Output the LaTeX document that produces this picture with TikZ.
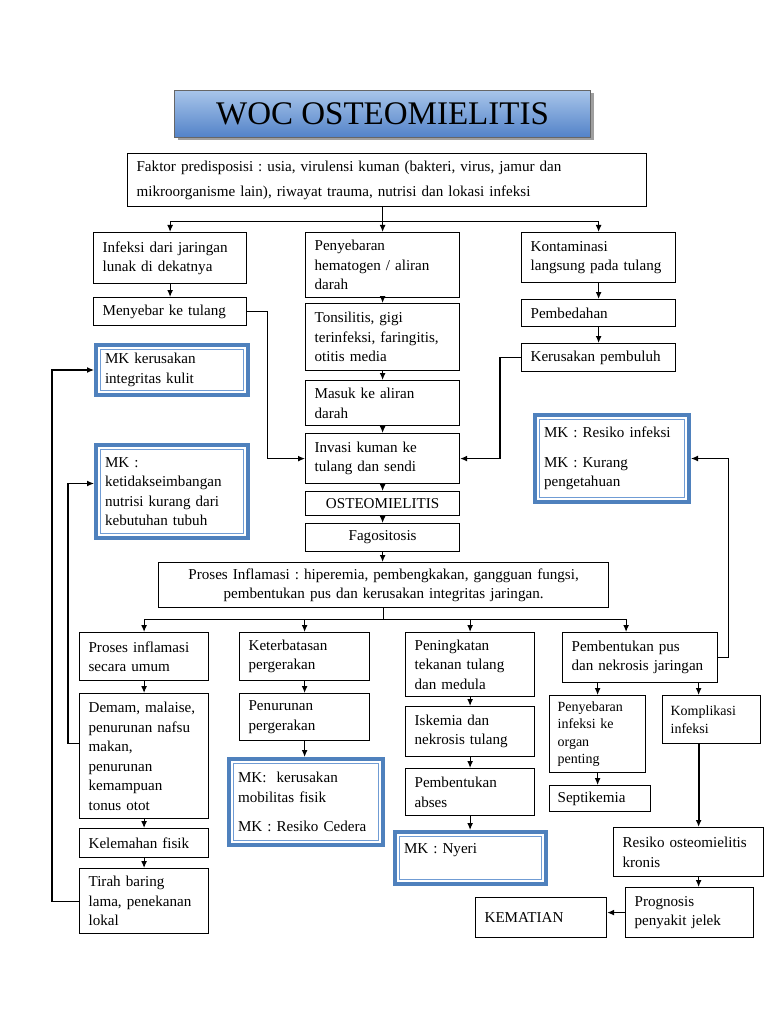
\documentclass[tikz,border=0pt]{standalone}
\usepackage{fontspec}
\setmainfont{Liberation Serif}
\usetikzlibrary{arrows.meta,shapes,positioning,shadows}
\frenchspacing
\hyphenpenalty=10000

\definecolor{mkblue}{RGB}{79,129,189}
\definecolor{mkinner}{RGB}{112,156,212}
\definecolor{titletop}{RGB}{168,197,234}
\definecolor{titlebot}{RGB}{82,130,200}

\tikzset{
  box/.style 2 args={draw, line width=1.2pt, anchor=north west,
    minimum width=#1pt, minimum height=#2pt, text width=#1pt-18pt,
    inner xsep=9pt, inner ysep=0pt, align=left,
    font=\fontsize{15.1}{19.5}\selectfont},
  mk/.style 2 args={box={#1}{#2}, draw=mkblue, line width=4pt,
    path picture={\draw[mkinner, line width=1.2pt]
      ([shift={(4.5pt,-4.5pt)}]path picture bounding box.north west) rectangle
      ([shift={(-4.5pt,4.5pt)}]path picture bounding box.south east);}},
  titlebox/.style={draw=black!60, line width=1pt, anchor=north west,
    minimum width=416pt, minimum height=47pt, top color=titletop,
    bottom color=titlebot, drop shadow={shadow xshift=3pt, shadow yshift=-3pt, fill=black!75},
    font=\fontsize{33}{36}\selectfont},
  arr/.style={-{Latex[length=7pt,width=6pt]}, line width=1.2pt},
  line/.style={line width=1.2pt}
}

\begin{document}
\begin{tikzpicture}[x=1pt,y=-1pt]
\useasboundingbox (0,0) rectangle (768,1024);
% title and predisposition
\node[titlebox] (title) at (174,90) {WOC OSTEOMIELITIS};
\node[box={519}{53}, font=\fontsize{15.1}{25}\selectfont] (faktor) at (127,153)
  {Faktor predisposisi : usia, virulensi kuman (bakteri, virus, jamur dan\\mikroorganisme lain), riwayat trauma, nutrisi dan lokasi infeksi};

% three routes of infection
\node[box={153}{51}] (infeksi) at (93,232) {Infeksi dari jaringan\\lunak di dekatnya};
\node[box={153}{28}] (menyebar) at (93,297) {Menyebar ke tulang};
\node[box={154}{65}] (penyebaran) at (305,232) {Penyebaran\\hematogen / aliran\\darah};
\node[box={154}{67}] (tonsil) at (305,303) {Tonsilitis, gigi\\terinfeksi, faringitis,\\otitis media};
\node[box={154}{45}] (masuk) at (305,380) {Masuk ke aliran\\darah};
\node[box={154}{50}] (invasi) at (305,433) {Invasi kuman ke\\tulang dan sendi};
\node[box={154}{24}, align=center] (osteo) at (305,491) {OSTEOMIELITIS};
\node[box={154}{28}, align=center] (fagosit) at (305,523) {Fagositosis};
\node[box={154}{50}] (kontaminasi) at (521,232) {Kontaminasi\\langsung pada tulang};
\node[box={154}{27}] (pembedahan) at (521,299) {Pembedahan};
\node[box={154}{28}] (kerusakan) at (521,343) {Kerusakan pembuluh};

% nursing problems (upper)
\node[mk={152}{50}] (mkkulit) at (94,343) {MK kerusakan\\integritas kulit};
\node[mk={152}{93}] (mknutrisi) at (94,443) {MK :\\ketidakseimbangan\\nutrisi kurang dari\\kebutuhan tubuh};
\node[mk={154}{87}] (mkinfeksi) at (533,413) {MK : Resiko infeksi\\[10pt]MK : Kurang\\pengetahuan};

% inflammation
\node[box={450}{45}, align=center] (inflamasi) at (158,562)
  {Proses Inflamasi : hiperemia, pembengkakan, gangguan fungsi,\\pembentukan pus dan kerusakan integritas jaringan.};

\node[box={129}{48}] (umum) at (79,632) {Proses inflamasi\\secara umum};
\node[box={129}{125}] (demam) at (79,693) {Demam, malaise,\\penurunan nafsu\\makan,\\penurunan\\kemampuan\\tonus otot};
\node[box={129}{29}] (kelemahan) at (79,828) {Kelemahan fisik};
\node[box={129}{65}] (tirah) at (79,868) {Tirah baring\\lama, penekanan\\lokal};

\node[box={130}{48}] (keterbatasan) at (239,632) {Keterbatasan\\pergerakan};
\node[box={130}{47}] (penurunan) at (239,693) {Penurunan\\pergerakan};
\node[mk={154}{86}] (mkmobilitas) at (227,757) {MK:\ \ kerusakan\\mobilitas fisik\\[10pt]MK : Resiko Cedera};

\node[box={129}{64}] (peningkatan) at (405,632) {Peningkatan\\tekanan tulang\\dan medula};
\node[box={129}{50}] (iskemia) at (405,706) {Iskemia dan\\nekrosis tulang};
\node[box={129}{47}] (abses) at (405,768) {Pembentukan\\abses};
\node[mk={151}{52}] (mknyeri) at (393,830) {MK : Nyeri\\~};

\node[box={155}{50}] (pus) at (562,632) {Pembentukan pus\\dan nekrosis jaringan};
\node[box={96}{77}, inner xsep=8pt, text width=80pt, font=\fontsize{14}{17.5}\selectfont] (penyebaraninf) at (549,695) {Penyebaran\\infeksi ke\\organ\\penting};
\node[box={101}{26}, inner xsep=8pt, text width=85pt] (septikemia) at (549,785) {Septikemia};
\node[box={98}{48}, inner xsep=8pt, text width=82pt, font=\fontsize{14}{18}\selectfont] (komplikasi) at (662,695) {Komplikasi\\infeksi};
\node[box={150}{49}] (resiko) at (613,827) {Resiko osteomielitis\\kronis};
\node[box={128}{50}] (prognosis) at (625,887) {Prognosis\\penyakit jelek};
\node[box={131}{40}] (kematian) at (475,897) {KEMATIAN};

% connectors
\coordinate (s1) at ([yshift=-14pt]faktor.south -| penyebaran.north);
\draw[arr] (faktor.south -| penyebaran.north) -- (penyebaran.north);
\draw[arr] (s1) -| (infeksi.north);
\draw[arr] (s1) -| (kontaminasi.north);

\foreach \a/\b in {infeksi/menyebar, penyebaran/tonsil, tonsil/masuk, masuk/invasi,
  invasi/osteo, osteo/fagosit, fagosit/inflamasi, kontaminasi/pembedahan,
  pembedahan/kerusakan, umum/demam, demam/kelemahan, kelemahan/tirah,
  keterbatasan/penurunan, penurunan/mkmobilitas, peningkatan/iskemia,
  iskemia/abses, abses/mknyeri, penyebaraninf/septikemia}
  \draw[arr] (\a.south) -- (\a.south |- \b.north);

\draw[arr] (menyebar.east) -- ++(20,0) |- (invasi.west);
\draw[arr] (kerusakan.west) -- ++(-21,0) |- (invasi.east);

\coordinate (s2) at ([yshift=-11pt]inflamasi.south);
\draw[line] (inflamasi.south) -- (s2);
\draw[arr] (s2) -| (umum.north);
\draw[arr] (s2) -| (keterbatasan.north);
\draw[arr] (s2) -| (peningkatan.north);
\draw[arr] (s2) -| ([xshift=-14pt]pus.north);

\coordinate (kol) at ([xshift=-13pt]komplikasi.north);
\draw[arr] (pus.south -| penyebaraninf.north) -- (penyebaraninf.north);
\draw[arr] (pus.south -| kol) -- (kol);
\draw[arr, line width=1.8pt] (komplikasi.south -| kol) -- (resiko.north -| kol);
\draw[arr] (resiko.south -| kol) -- (prognosis.north -| kol);
\draw[arr] (prognosis.west) -- (prognosis.west -| kematian.east);

% back to nursing problems
\draw[arr] (pus.east) -- ++(10,0) |- (mkinfeksi.east);
\draw[arr] ([yshift=13pt]demam.west) -- ++(-11,0) |- ([yshift=8pt]mknutrisi.west);
\draw[arr] (tirah.west) -- ++(-27,0) |- (mkkulit.west);
\end{tikzpicture}
\end{document}
